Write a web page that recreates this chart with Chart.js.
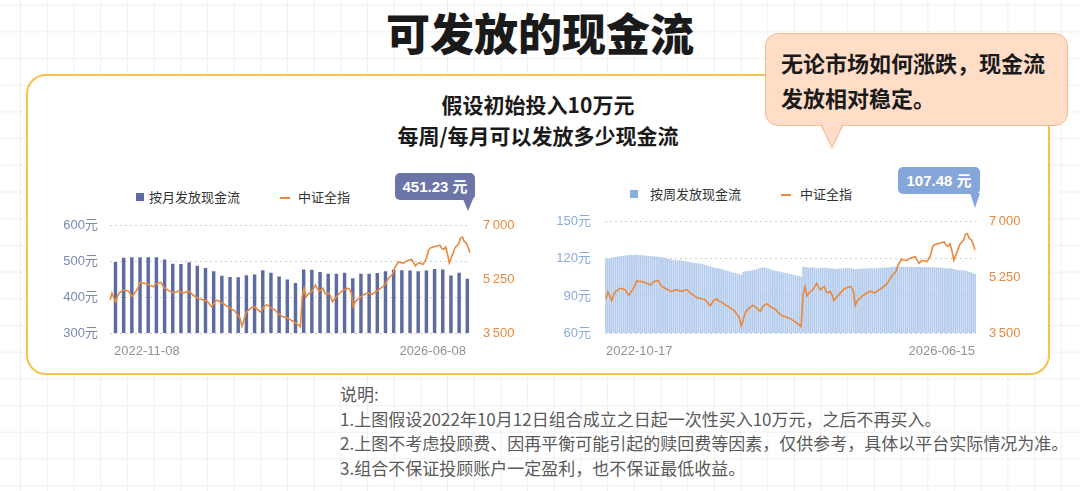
<!DOCTYPE html>
<html>
<head>
<meta charset="utf-8">
<script src="https://cdn.jsdelivr.net/npm/chart.js@4.4.1/dist/chart.umd.min.js"></script>
<style>
  body {
    margin: 0; width: 1080px; height: 491px; overflow: hidden; position: relative;
    font-family: "Noto Sans CJK SC", sans-serif; color: #1a1a1a;
    background-color: #fff;
    background-image: linear-gradient(#f0f0f0 1px, transparent 1px), linear-gradient(90deg, #f0f0f0 1px, transparent 1px);
    background-size: 26.7px 26.7px;
    background-position: 20px 4.7px;
  }
  .abs { position: absolute; }
  #title { left: 0; width: 1080px; top: 5px; text-align: center; font-size: 44px; font-weight: 900; line-height: 54px; }
  #box { left: 26px; top: 74px; width: 1024px; height: 301px; box-sizing: border-box; border: 2px solid #F7C24B; border-radius: 20px; background: #fff; }
  #sub { left: 0; width: 1076px; top: 89px; text-align: center; font-size: 21px; font-weight: 700; line-height: 31px; }
  #bubble { left: 765px; top: 33px; width: 303px; height: 93px; box-sizing: border-box; background: #FFDDC7; border: 1px solid #F3B98F; border-radius: 13px; padding: 11px 0 0 15px; font-size: 22px; font-weight: 700; line-height: 35px; }
  .tri { width: 0; height: 0; border-style: solid; }
  .legend { font-size: 13px; color: #333; line-height: 16px; }
  .sq { width: 8px; height: 8px; }
  .ln { width: 10px; height: 2px; background: #E8893D; }
  .tag { color: #fff; font-weight: 700; font-size: 15px; line-height: 27px; text-align: center; border-radius: 5px; font-family: "Liberation Sans", "Noto Sans CJK SC", sans-serif; }
  #notes { left: 340px; top: 382px; font-size: 17px; line-height: 24.7px; color: #5a5a5a; }
</style>
</head>
<body>
<div class="abs" id="box"></div>
<div class="abs" id="title">可发放的现金流</div>
<div class="abs" id="sub">假设初始投入10万元<br>每周/每月可以发放多少现金流</div>

<div class="abs" id="bubble">无论市场如何涨跌，现金流<br>发放相对稳定。</div>
<div class="abs tri" style="left:821px;top:126px;border-width:23px 11px 0 11px;border-color:#F3B98F transparent transparent transparent;"></div>
<div class="abs tri" style="left:822px;top:125px;border-width:22px 10px 0 10px;border-color:#FFDDC7 transparent transparent transparent;"></div>

<!-- left legend -->
<div class="abs sq" style="left:136px;top:193px;background:#5D6BA0;"></div>
<div class="abs legend" style="left:149px;top:189px;">按月发放现金流</div>
<div class="abs ln" style="left:280px;top:197px;"></div>
<div class="abs legend" style="left:298px;top:189px;">中证全指</div>

<!-- right legend -->
<div class="abs sq" style="left:630px;top:190px;background:#8DAEE0;"></div>
<div class="abs legend" style="left:650px;top:186px;">按周发放现金流</div>
<div class="abs ln" style="left:781px;top:194px;"></div>
<div class="abs legend" style="left:800px;top:186px;">中证全指</div>

<canvas id="c1" class="abs" width="470" height="162" style="left:55px;top:205px;"></canvas>
<canvas id="c2" class="abs" width="486" height="167" style="left:545px;top:200px;"></canvas>

<div class="abs tag" style="left:395px;top:173px;width:80px;background:#6B75A7;">451.23 元</div>
<div class="abs tri" style="left:463px;top:199px;border-width:12px 5px 0 5px;border-color:#6B75A7 transparent transparent transparent;"></div>
<div class="abs tag" style="left:898px;top:167px;width:82px;background:#85A6DA;">107.48 元</div>
<div class="abs tri" style="left:970px;top:193px;border-width:15px 5px 0 5px;border-color:#85A6DA transparent transparent transparent;"></div>

<div class="abs" id="notes">说明:<br>1.上图假设2022年10月12日组合成立之日起一次性买入10万元，之后不再买入。<br>2.上图不考虑投顾费、因再平衡可能引起的赎回费等因素，仅供参考，具体以平台实际情况为准。<br>3.组合不保证投顾账户一定盈利，也不保证最低收益。</div>

<script>
// 按月发放现金流 (元), 2022-11 .. 2026-06
var monthlyCash = [498, 510, 511, 511, 511, 511, 505, 493, 492, 497,
  487, 481, 472, 459, 456, 455, 461, 463, 475, 468,
  457, 449, 439, 477, 476, 470, 465, 465, 468, 452,
  465, 465, 467, 472, 476, 475, 474, 472, 474, 478,
  477, 460, 468, 451.23];

// 按周发放现金流 (元), 2022-10-17 .. 2026-06-15
var weeklyCash = [119.6, 119.9, 120.3, 120.6, 120.9, 121.2, 121.5, 121.8, 122.0, 122.3,
  122.5, 122.6, 122.8, 123.0, 122.9, 123.1, 123.0, 122.8, 122.7, 122.6,
  122.4, 122.3, 122.1, 122.0, 121.9, 121.8, 121.6, 121.4, 121.3, 121.0,
  120.6, 120.2, 119.8, 119.5, 119.2, 119.0, 118.8, 118.7, 118.6, 118.4,
  118.1, 117.8, 117.5, 117.2, 116.9, 116.6, 116.3, 116.1, 115.9, 115.7,
  115.4, 115.0, 114.6, 114.1, 113.6, 113.1, 112.7, 112.4, 112.1, 111.8,
  111.4, 111.0, 110.5, 110.0, 109.5, 109.0, 108.6, 108.2, 107.8, 107.3,
  106.9, 109.2, 109.8, 110.0, 110.1, 110.3, 110.6, 111.0, 111.5, 112.1,
  112.6, 113.0, 112.8, 112.3, 111.9, 111.4, 110.9, 110.4, 110.0, 109.7,
  109.3, 108.9, 108.6, 108.3, 108.0, 107.7, 107.3, 106.9, 106.5, 106.1,
  105.8, 105.4,
  113.4, 113.2, 112.9, 112.6, 112.8, 113.0, 112.7, 112.4, 112.2, 112.3,
  112.5, 112.6, 112.4, 112.1, 111.9, 112.0, 111.6, 111.5, 111.7, 111.9,
  112.0, 112.2, 112.3, 112.4, 112.3, 112.1, 111.8, 111.2, 111.5, 111.7,
  111.8, 111.9, 112.0, 112.0, 112.1, 112.1, 112.0, 112.2, 112.3, 112.4,
  112.5, 112.6, 112.7, 112.8, 112.9, 113.0, 113.1, 113.2, 113.3, 113.3,
  113.4, 113.3, 113.2, 113.3, 113.4, 113.3, 113.2, 113.1, 113.2, 113.3,
  113.2, 113.1, 113.0, 113.1, 113.2, 113.1, 113.0, 112.9, 112.8, 112.9,
  112.8, 112.6, 112.5, 112.3, 112.1, 111.9, 112.0, 112.2, 111.5, 111.0,
  110.8, 110.6, 110.4, 110.5, 110.2, 109.9, 109.4, 108.8, 108.1, 107.48];

// 中证全指 (weekly close)
var csiAll = [4580, 4800, 4650, 4520, 4700, 4810, 4850, 4900, 4900, 4880,
  4860, 4760, 4690, 4800, 4880, 5000, 5150, 5120, 5130, 5110,
  5100, 5060, 5040, 5010, 5080, 5120, 5140, 5150, 5040, 4960,
  4930, 4890, 4860, 4830, 4810, 4840, 4860, 4850, 4830, 4810,
  4830, 4850, 4860, 4800, 4740, 4700, 4660, 4620, 4600, 4590,
  4570, 4560, 4500, 4420, 4360, 4450, 4540, 4570, 4530, 4490,
  4470, 4420, 4370, 4350, 4300, 4260, 4230, 4150, 4070, 3980,
  3720, 3900, 4130, 4220, 4280, 4320, 4370, 4340, 4280, 4230,
  4180, 4320, 4380, 4420, 4400, 4330, 4300, 4270, 4230, 4150,
  4100, 4050, 4030, 4010, 3990, 3960, 3920, 3890, 3850, 3800,
  3760, 3700, 4700, 4960, 4670, 4760, 4810, 4860, 4950, 5060,
  4950, 4860, 4920, 4960, 4800, 4760, 4810, 4700, 4520, 4600,
  4670, 4740, 4810, 4870, 4910, 4930, 4960, 4940, 4820, 4370,
  4500, 4580, 4620, 4680, 4720, 4760, 4790, 4810, 4790, 4760,
  4800, 4850, 4880, 4930, 4980, 5020, 5110, 5200, 5300, 5370,
  5420, 5620, 5720, 5820, 5800, 5790, 5790, 5840, 5870, 5880,
  5910, 5800, 5690, 5760, 5790, 5770, 5740, 5830, 5950, 6200,
  6280, 6300, 6320, 6330, 6350, 6370, 6260, 6230, 6310, 6100,
  5790, 5950, 6100, 6280, 6350, 6420, 6600, 6630, 6480, 6440,
  6300, 6120];

function dateList(y, m, d, n, stepDays, monthly) {
  var out = [];
  for (var i = 0; i < n; i++) {
    var dt = monthly ? new Date(Date.UTC(y, m - 1 + i, d)) : new Date(Date.UTC(y, m - 1, d + i * stepDays));
    out.push(dt.toISOString().slice(0, 10));
  }
  return out;
}
var monthLabels = dateList(2022, 11, 8, monthlyCash.length, 0, true);
var weekLabels = dateList(2022, 10, 17, weeklyCash.length, 7, false);

Chart.defaults.font.family = '"Liberation Sans", "Noto Sans CJK SC", sans-serif';
Chart.defaults.font.size = 13;
Chart.defaults.animation = false;

const ORANGE = '#E8893D';
function firstLast(labels) {
  return function(v, i) { return (i === 0 || i === labels.length - 1) ? labels[i] : ''; };
}
function thin(v) { return String(v).replace(/(\d)(\d{3})$/, '$1\u2009$2'); }

function makeChart(id, o) {
  return new Chart(document.getElementById(id), {
    data: {
      labels: o.labels,
      datasets: [
        { type: 'line', label: '中证全指', data: csiAll, xAxisID: o.lineAxis, yAxisID: 'y2',
          borderColor: ORANGE, borderWidth: 1.6, pointRadius: 0, tension: 0, order: 0 },
        { type: 'bar', label: o.barLabel, data: o.bars, xAxisID: 'x', yAxisID: 'y',
          backgroundColor: o.barColor, barThickness: o.barWidth, order: 1 }
      ]
    },
    options: {
      responsive: false,
      devicePixelRatio: 1,
      layout: { padding: { top: 12, bottom: 0, left: 0, right: 0 } },
      plugins: { legend: { display: false }, tooltip: { enabled: false } },
      scales: {
        x: {
          type: 'category', offset: true,
          grid: { display: false }, border: { display: false },
          afterFit: function(s) { s.height = 34; },
          ticks: { autoSkip: false, maxRotation: 0, align: 'inner', padding: 3, color: '#929292',
                   font: { size: 13 }, callback: firstLast(o.labels) }
        },
        xl: { type: 'category', labels: weekLabels, offset: false, display: false },
        y: {
          position: 'left', min: o.yMin, max: o.yMax,
          afterFit: function(s) { s.width = o.leftW; },
          grid: { color: '#cfcfcf', lineWidth: 1, drawTicks: false },
          border: { display: false, dash: [2, 3] },
          ticks: { stepSize: o.yStep, padding: o.leftPad, color: o.tickColor, font: { size: 13 },
                   callback: function(v) { return v + '元'; } }
        },
        y2: {
          position: 'right', min: 3500, max: 7000,
          afterFit: function(s) { s.width = 55; },
          grid: { display: false, drawTicks: false }, border: { display: false },
          ticks: { stepSize: 1750, padding: 13, color: ORANGE, font: { size: 13 }, callback: thin }
        }
      }
    }
  });
}

makeChart('c1', { labels: monthLabels, bars: monthlyCash, barLabel: '按月发放现金流', barColor: '#5D6BA0',
  barWidth: 2.8, lineAxis: 'xl', yMin: 300, yMax: 600, yStep: 100, leftW: 55, leftPad: 12, tickColor: '#7C88B3' });
makeChart('c2', { labels: weekLabels, bars: weeklyCash, barLabel: '按周发放现金流', barColor: '#B3CBEC',
  barWidth: 1, lineAxis: 'x', yMin: 60, yMax: 150, yStep: 30, leftW: 60, leftPad: 14, tickColor: '#8CABDA' });
</script>
</body>
</html>
